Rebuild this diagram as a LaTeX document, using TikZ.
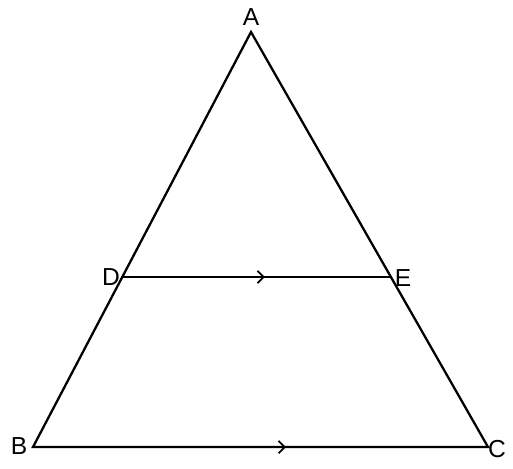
\documentclass[tikz,border=0pt]{standalone}
\usepackage{fontspec}
\setmainfont{Liberation Sans}
\usetikzlibrary{arrows.meta,decorations.markings}

\begin{document}
\begin{tikzpicture}
    [x=0.02cm,y=-0.02cm,
     side/.style={line width=1.3pt},
     lbl/.style={inner sep=0pt,font=\fontsize{14}{16}\selectfont},
     parmark/.style={postaction={decorate,decoration={markings,
        mark=at position #1 with {\arrow{Straight Barb[length=3.5pt,width=7pt,line width=1pt]}}}}}]
    \useasboundingbox (0,0) rectangle (513,468);
    % Vertices
    \coordinate (A) at (251,32);
    \coordinate (B) at (33,447);
    \coordinate (C) at (488,447);
    \coordinate (D) at (121,277);
    \coordinate (E) at (390,277);

    % Triangle
    \draw [side,line join=miter] (A) -- (B) -- (C) -- cycle;

    % Parallel segment
    \draw [side,parmark=0.535] (D) -- (E);
    \draw [side,parmark=0.556,
        postaction={decorate,decoration={markings,
        mark=at position 0.556 with {\draw[line width=1.6pt] (-26,0) -- (-2,0);}}}]
        (B) -- (C);

    % Vertex labels
    \node [lbl] (lA) at (251,17) {A};
    \node [lbl] (lB) at (19,446) {B};
    \node [lbl] (lC) at (497,449) {C};
    \node [lbl] (lD) at (111,277) {D};
    \node [lbl] (lE) at (403,278) {E};
\end{tikzpicture}
\end{document}
